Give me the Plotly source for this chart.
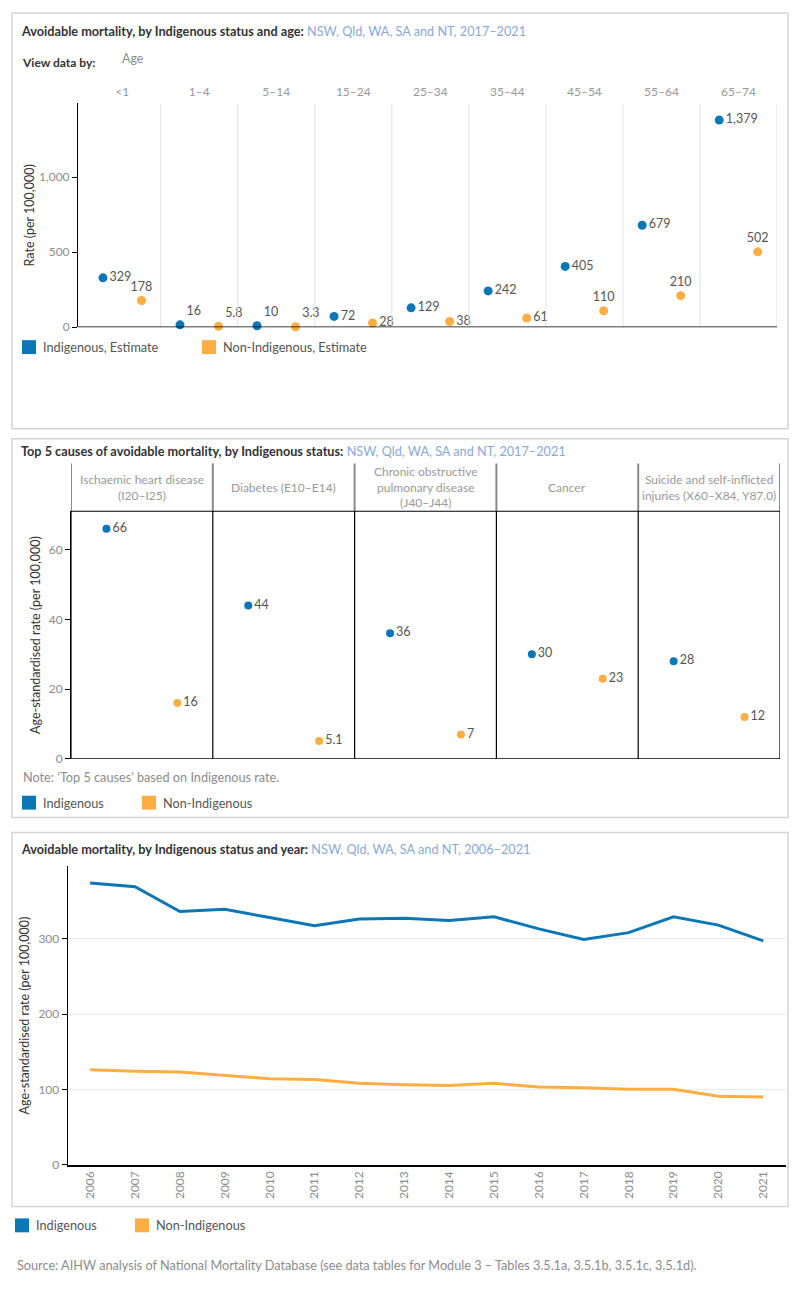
import plotly.graph_objects as go

# ---------------- data ----------------
age_groups = ["<1", "1–4", "5–14", "15–24", "25–34", "35–44", "45–54", "55–64", "65–74"]
age_indig = [329, 16, 10, 72, 129, 242, 405, 679, 1379]
age_indig_text = ["329", "16", "10", "72", "129", "242", "405", "679", "1,379"]
age_nonindig = [178, 5.8, 3.3, 28, 38, 61, 110, 210, 502]
age_nonindig_text = ["178", "5.8", "3.3", "28", "38", "61", "110", "210", "502"]

causes = ["Ischaemic heart disease<br>(I20–I25)", "Diabetes (E10–E14)",
          "Chronic obstructive<br>pulmonary disease<br>(J40–J44)", "Cancer",
          "Suicide and self-inflicted<br>injuries (X60–X84, Y87.0)"]
cause_indig = [66, 44, 36, 30, 28]
cause_indig_text = ["66", "44", "36", "30", "28"]
cause_nonindig = [16, 5.1, 7, 23, 12]
cause_nonindig_text = ["16", "5.1", "7", "23", "12"]

years = list(range(2006, 2022))
year_indig = [374, 369, 336, 339, 328, 317, 326, 327, 324, 329, 313, 299, 308, 329, 318, 297]
year_nonindig = [126, 124, 123, 118, 114, 113, 108, 106, 105, 108, 103, 102, 100, 100, 91, 90]

# ---------------- style ----------------
BLUE = "#0B77B7"
ORANGE = "#FDAD42"
DARK = "#333333"
GREY = "#8C8C8C"
LIGHTBLUE = "#8AAAD6"
FONT = "Lato"
TXT = 12.7
W, H = 800, 1300
OFF = 0.25  # within-category offset of the two series

nonindig_pos = ["top center", "top right", "top right", "middle right", "middle right",
                "middle right", "top center", "top center", "top center"]
indig_pos = ["middle right", "top right", "top right", "middle right", "middle right",
             "middle right", "middle right", "middle right", "middle right"]


def X(px):
    return px / W


def Y(py):
    return 1 - py / H


fig = go.Figure()
labfont = dict(color="#555", size=12.5, family=FONT)

# ---------- panel 1: by age ----------
xi = list(range(len(age_groups)))
fig.add_trace(go.Scatter(
    x=[i - OFF for i in xi], y=age_indig, mode="markers+text", text=age_indig_text,
    textposition=indig_pos, marker=dict(color=BLUE, size=9), name="Indigenous, Estimate",
    textfont=labfont, xaxis="x", yaxis="y", showlegend=False, cliponaxis=False))
fig.add_trace(go.Scatter(
    x=[i + OFF for i in xi], y=age_nonindig, mode="markers+text", text=age_nonindig_text,
    textposition=nonindig_pos, marker=dict(color=ORANGE, size=9), name="Non-Indigenous, Estimate",
    textfont=labfont, xaxis="x", yaxis="y", showlegend=False, cliponaxis=False))

# ---------- panel 2: top 5 causes ----------
ci = list(range(len(causes)))
fig.add_trace(go.Scatter(
    x=[i - OFF for i in ci], y=cause_indig, mode="markers+text", text=cause_indig_text,
    textposition="middle right", marker=dict(color=BLUE, size=8), name="Indigenous",
    textfont=labfont, xaxis="x2", yaxis="y2", showlegend=False, cliponaxis=False))
fig.add_trace(go.Scatter(
    x=[i + OFF for i in ci], y=cause_nonindig, mode="markers+text", text=cause_nonindig_text,
    textposition="middle right", marker=dict(color=ORANGE, size=8), name="Non-Indigenous",
    textfont=labfont, xaxis="x2", yaxis="y2", showlegend=False, cliponaxis=False))

# ---------- panel 3: by year ----------
fig.add_trace(go.Scatter(x=years, y=year_indig, mode="lines", line=dict(color=BLUE, width=3),
                         name="Indigenous", xaxis="x3", yaxis="y3", showlegend=False))
fig.add_trace(go.Scatter(x=years, y=year_nonindig, mode="lines", line=dict(color=ORANGE, width=3),
                         name="Non-Indigenous", xaxis="x3", yaxis="y3", showlegend=False))

tickfont = dict(color=GREY, size=12, family=FONT)
titlefont = dict(color=DARK, size=12.5, family=FONT)

fig.update_layout(
    width=W, height=H, margin=dict(l=0, r=0, t=0, b=0),
    paper_bgcolor="white", plot_bgcolor="white",
    font=dict(family=FONT, color=DARK),
    xaxis=dict(domain=[X(78), X(777)], range=[-0.574, 8.5], anchor="y", side="top",
               tickvals=xi, ticktext=age_groups, ticks="", showline=False, showgrid=False,
               zeroline=False, tickfont=dict(color="#999", size=12, family=FONT),
               ticklabelstandoff=4),
    yaxis=dict(domain=[Y(329), Y(104)], range=[0, 1490], anchor="x",
               tickvals=[0, 500, 1000], tickformat=",", ticks="outside", ticklen=5,
               tickcolor="black", showline=True, linecolor="black", linewidth=1,
               showgrid=False, zeroline=False, tickfont=tickfont,
               title=dict(text="Rate (per 100,000)", font=titlefont, standoff=1)),
    xaxis2=dict(domain=[X(71), X(780)], range=[-0.5, 4.5], anchor="y2",
                showticklabels=False, ticks="", showline=False, showgrid=False, zeroline=False),
    yaxis2=dict(domain=[Y(763), Y(514)], range=[0, 71], anchor="x2",
                tickvals=[0, 20, 40, 60], ticks="outside", ticklen=5, tickcolor="black",
                showline=True, linecolor="black", linewidth=1, showgrid=False, zeroline=False,
                tickfont=tickfont,
                title=dict(text="Age-standardised rate (per 100,000)", font=titlefont, standoff=5)),
    xaxis3=dict(domain=[X(67.7), X(785.7)], range=[2005.5, 2021.5], anchor="y3",
                tickvals=years, tickangle=-90, ticks="", showline=True, linecolor="black",
                linewidth=1.5, showgrid=False, zeroline=False, tickfont=tickfont),
    yaxis3=dict(domain=[Y(1171), Y(871)], range=[0, 396], anchor="x3",
                tickvals=[0, 100, 200, 300], ticks="outside", ticklen=5, tickcolor="black",
                showline=True, linecolor="black", linewidth=1, showgrid=True,
                gridcolor="#EBEBEB", zeroline=False, tickfont=tickfont,
                title=dict(text="Age-standardised rate (per 100,000)", font=titlefont, standoff=6)),
)

shapes = []
# panel borders
for (y0, y1) in [(13, 431), (441, 822), (837, 1213)]:
    shapes.append(dict(type="rect", xref="paper", yref="paper", x0=X(12), x1=X(788),
                       y0=Y(y1), y1=Y(y0), line=dict(color="#D4D4D4", width=1.5)))
# panel 1 column separators
for i in xi:
    shapes.append(dict(type="line", xref="x", yref="y domain", x0=i + 0.5, x1=i + 0.5,
                       y0=0, y1=1, line=dict(color="#E0E0E0", width=1)))
shapes.append(dict(type="line", xref="x domain", yref="y", x0=0, x1=1, y0=0, y1=0,
                   line=dict(color="black", width=1.5)))
# panel 2 header + grid
for i in range(len(causes) + 1):
    b = i - 0.5
    shapes.append(dict(type="line", xref="x2", yref="paper", x0=b, x1=b, y0=Y(514), y1=Y(466),
                       line=dict(color="#8A8A8A", width=2)))
    shapes.append(dict(type="line", xref="x2", yref="y2 domain", x0=b, x1=b, y0=0, y1=1,
                       line=dict(color="black", width=1.2)))
shapes.append(dict(type="line", xref="x2 domain", yref="y2 domain", x0=0, x1=1, y0=1, y1=1,
                   line=dict(color="black", width=1.2)))
shapes.append(dict(type="line", xref="paper", yref="y2", x0=X(66), x1=X(780), y0=0, y1=0,
                   line=dict(color="black", width=1.5)))

annotations = []


def ann(x, y, text, size=TXT, color=DARK, xanchor="left", yanchor="middle", xref="paper", **kw):
    annotations.append(dict(x=x, y=y, xref=xref, yref="paper", text=text, showarrow=False,
                            xanchor=xanchor, yanchor=yanchor,
                            font=dict(size=size, color=color, family=FONT), **kw))


ann(X(19), Y(31), "<b>Avoidable mortality, by Indigenous status and age:</b> "
    f"<span style='color:{LIGHTBLUE}'>NSW, Qld, WA, SA and NT, 2017–2021</span>")
ann(X(20), Y(63), "<b>View data by:</b>", size=12)
ann(X(120), Y(59), "Age", size=12.5, color=GREY)

ann(X(19), Y(453), "<b>Top 5 causes of avoidable mortality, by Indigenous status:</b> "
    f"<span style='color:{LIGHTBLUE}'>NSW, Qld, WA, SA and NT, 2017–2021</span>")
for i, c in enumerate(causes):
    ann(i, Y(490), c, size=12, color="#999", xanchor="center", xref="x2")
ann(X(21), Y(781), "Note: ‘Top 5 causes’ based on Indigenous rate.", color=GREY)

ann(X(19), Y(854), "<b>Avoidable mortality, by Indigenous status and year:</b> "
    f"<span style='color:{LIGHTBLUE}'>NSW, Qld, WA, SA and NT, 2006–2021</span>")


# legends
def legend_item(xsq, ycen, color, label):
    shapes.append(dict(type="rect", xref="paper", yref="paper", x0=X(xsq), x1=X(xsq + 14),
                       y0=Y(ycen + 7), y1=Y(ycen - 7), fillcolor=color, line=dict(width=0)))
    ann(X(xsq + 19), Y(ycen), label, color="#555")


legend_item(22, 349, BLUE, "Indigenous, Estimate")
legend_item(202, 349, ORANGE, "Non-Indigenous, Estimate")
legend_item(22, 807, BLUE, "Indigenous")
legend_item(142, 807, ORANGE, "Non-Indigenous")
legend_item(15, 1232, BLUE, "Indigenous")
legend_item(135, 1232, ORANGE, "Non-Indigenous")

ann(X(15), Y(1272), "Source: AIHW analysis of National Mortality Database (see data tables for "
    "Module 3 – Tables 3.5.1a, 3.5.1b, 3.5.1c, 3.5.1d).", color=GREY)

fig.update_layout(shapes=shapes, annotations=annotations)
fig.write_html("out.html")
